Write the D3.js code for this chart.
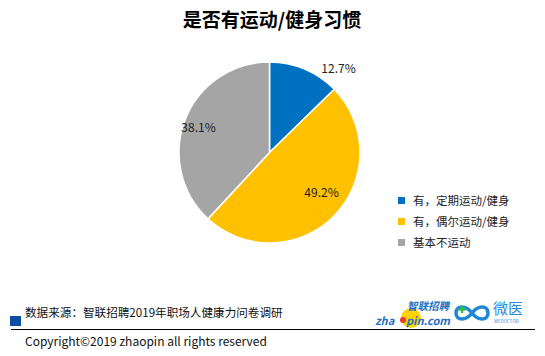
<!DOCTYPE html>
<html><head><meta charset="utf-8">
<script src="https://cdn.jsdelivr.net/npm/d3@7/dist/d3.min.js"></script>
<style>body{margin:0;background:#fff}svg{display:block}text{font-family:"Noto Sans CJK SC","Microsoft YaHei",sans-serif}</style>
</head><body><div id="chart"></div>
<script>
const title = "是否有运动/健身习惯";
const categories = ["有，定期运动/健身", "有，偶尔运动/健身", "基本不运动"];
const values = [12.7, 49.2, 38.1];
const colors = ["#0070C0", "#FFC000", "#A5A5A5"];
const source = "数据来源：智联招聘2019年职场人健康力问卷调研";
const copyright = "Copyright©2019 zhaopin all rights reserved";

const W = 545, H = 356;
const svg = d3.select("#chart").append("svg").attr("width", W).attr("height", H);

svg.append("text").attr("x", 272).attr("y", 27).attr("text-anchor", "middle")
  .attr("font-size", 19).attr("font-weight", "bold").attr("fill", "#000").text(title);

const cx = 269.5, cy = 152.5, r = 90.5;
const pie = d3.pie().sort(null).value(d => d)(values);
const arc = d3.arc().innerRadius(0).outerRadius(r);
const g = svg.append("g").attr("transform", `translate(${cx},${cy})`);
g.selectAll("path").data(pie).join("path").attr("d", arc)
  .attr("fill", (d, i) => colors[i]).attr("stroke", "#fff").attr("stroke-width", 1.5);

const labelPos = [[69, -80], [52, 44], [-71, -21]];
g.selectAll("text.lbl").data(pie).join("text").attr("class", "lbl")
  .attr("x", (d, i) => labelPos[i][0])
  .attr("y", (d, i) => labelPos[i][1])
  .attr("text-anchor", "middle").attr("font-size", 12).attr("fill", "#222")
  .text(d => d.value.toFixed(1) + "%");

const leg = svg.append("g");
categories.forEach((c, i) => {
  const y = 201 + i * 21;
  leg.append("rect").attr("x", 398).attr("y", y - 4).attr("width", 7).attr("height", 7).attr("fill", colors[i]);
  leg.append("text").attr("x", 413).attr("y", y + 4).attr("font-size", 11.5).attr("fill", "#222").text(c);
});

// footer
svg.append("rect").attr("x", 10).attr("y", 316).attr("width", 11).attr("height", 10).attr("fill", "#0B4EA2");
svg.append("text").attr("x", 25).attr("y", 317).attr("font-size", 11.6).attr("fill", "#111").text(source);
svg.append("line").attr("x1", 11).attr("x2", 535).attr("y1", 329.5).attr("y2", 329.5).attr("stroke", "#000").attr("stroke-width", 1.2);
svg.append("text").attr("x", 25).attr("y", 346).attr("font-size", 12).attr("fill", "#111").attr("font-family", "Lato, sans-serif").text(copyright);

// logos
const lg = svg.append("g");
lg.append("circle").attr("cx", 411).attr("cy", 318).attr("r", 10).attr("fill", "#FFD200");
lg.append("circle").attr("cx", 403).attr("cy", 320).attr("r", 3).attr("fill", "#E53A2E");
lg.append("text").attr("x", 407).attr("y", 310).attr("font-size", 10.5).attr("font-weight", "bold").attr("font-style", "italic").attr("fill", "#1F6FC0").text("智联招聘");
lg.append("text").attr("x", 375).attr("y", 325).attr("font-size", 11).attr("font-weight", "bold").attr("font-style", "italic").attr("fill", "#1F6FC0").attr("font-family", "DejaVu Sans").text("zha");
lg.append("text").attr("x", 406).attr("y", 325).attr("font-size", 11).attr("font-weight", "bold").attr("font-style", "italic").attr("fill", "#1F6FC0").attr("font-family", "DejaVu Sans").text("pin.com");
// weidoctor
lg.append("path").attr("d", "M456,313 C456,305 466,305 472,313 C478,321 488,321 488,313 C488,305 478,305 472,313 C466,321 456,321 456,313 Z")
  .attr("fill", "none").attr("stroke", "#1E88D6").attr("stroke-width", 3.5);
lg.append("path").attr("d", "M462,306 L462,313 M458.5,309.5 L465.5,309.5").attr("stroke", "#3DBB4D").attr("stroke-width", 2.5);
lg.append("text").attr("x", 493).attr("y", 314).attr("font-size", 15).attr("fill", "#2A8AD8").text("微医");
lg.append("text").attr("x", 494).attr("y", 323).attr("font-size", 4.5).attr("fill", "#2A8AD8").attr("font-family", "DejaVu Sans").text("WEDOCTOR");
</script></body></html>
